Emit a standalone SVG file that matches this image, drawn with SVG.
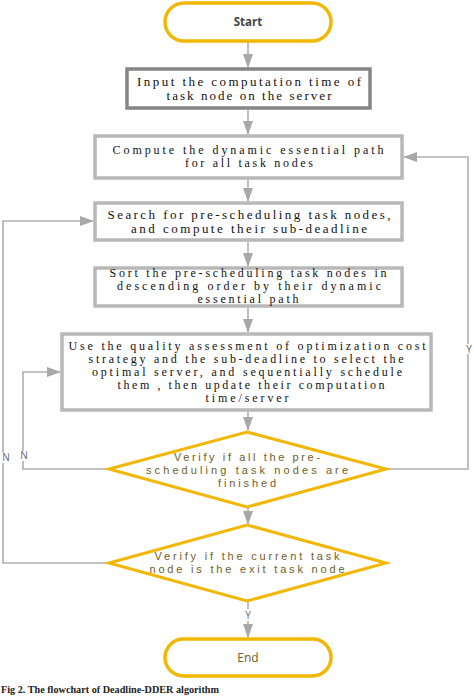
<svg xmlns="http://www.w3.org/2000/svg" width="474" height="696" viewBox="0 0 474 696">
<style>
.term{fill:#fff;stroke:#f2b705;stroke-width:3.5}
.dia{fill:#fff;stroke:#f2b705;stroke-width:3}
.box{fill:#fff;stroke:#b8b8b8;stroke-width:3.5}
.box1{fill:#fff;stroke:#858585;stroke-width:3.5}
.bt{font-family:"Liberation Serif",serif;font-size:13px;fill:#111;text-anchor:middle}
.bs{font-size:12px}
.dt{font-family:"Liberation Sans",Arial,sans-serif;font-size:11px;fill:#6f5e1f;text-anchor:middle}
.tt{font-family:"Open Sans","Liberation Sans",sans-serif;font-size:11.5px;font-weight:bold;fill:#444;text-anchor:middle}
.et{font-family:"Open Sans","Liberation Sans",sans-serif;font-size:12px;fill:#6f5e1f;text-anchor:middle}
.lbl{font-family:"Open Sans","Liberation Sans",sans-serif;font-size:10px;fill:#666;text-anchor:middle}
.ln{fill:none;stroke:#b0b0b0;stroke-width:1.6}
.cap{font-family:"Liberation Serif",serif;font-size:10px;font-weight:bold;fill:#222}
</style>
<defs>
<marker id="ah" markerWidth="14" markerHeight="10" refX="13" refY="5" orient="auto" markerUnits="userSpaceOnUse">
<path d="M0,0 L14,5 L0,10 Z" fill="#a8a8a8"/>
</marker>
</defs>
<rect width="474" height="696" fill="#fff"/>
<g id="connectors">
<line class="ln" x1="248" y1="42" x2="248" y2="67" marker-end="url(#ah)"/>
<line class="ln" x1="248" y1="110" x2="248" y2="134" marker-end="url(#ah)"/>
<line class="ln" x1="248" y1="180" x2="248" y2="201" marker-end="url(#ah)"/>
<line class="ln" x1="248" y1="242" x2="248" y2="266" marker-end="url(#ah)"/>
<line class="ln" x1="248" y1="308" x2="248" y2="332" marker-end="url(#ah)"/>
<line class="ln" x1="248" y1="412" x2="248" y2="430" marker-end="url(#ah)"/>
<line class="ln" x1="248" y1="508" x2="248" y2="524" marker-end="url(#ah)"/>
<line class="ln" x1="248" y1="601" x2="248" y2="609"/>
<line class="ln" x1="248" y1="621" x2="248" y2="637" marker-end="url(#ah)"/>
<text class="lbl" x="248" y="619">Y</text>
<polyline class="ln" points="386,469 468,469 468,354"/>
<polyline class="ln" points="468,344 468,157 404,157" marker-end="url(#ah)"/>
<text class="lbl" x="469" y="353">Y</text>
<polyline class="ln" points="110,469 23,469 23,461"/>
<polyline class="ln" points="23,451 23,372 60,372" marker-end="url(#ah)"/>
<text class="lbl" x="24" y="459">N</text>
<polyline class="ln" points="108,563 3,563 3,463"/>
<polyline class="ln" points="3,453 3,221 93,221" marker-end="url(#ah)"/>
<text class="lbl" x="6" y="461">N</text>
</g>
<g id="start">
<rect class="term" x="165" y="3" width="166" height="38" rx="19"/>
<text class="tt" x="248" y="26">Start</text>
</g>
<g id="input">
<rect class="box1" x="127" y="69" width="243" height="39"/>
<text class="bt" x="249" y="86" textLength="224" lengthAdjust="spacing">Input the computation time of</text>
<text class="bt" x="249" y="100" textLength="165" lengthAdjust="spacing">task node on the server</text>
</g>
<g id="compute">
<rect class="box" x="95" y="136" width="307" height="42"/>
<text class="bt bs" x="248" y="154" textLength="271" lengthAdjust="spacing">Compute the dynamic essential path</text>
<text class="bt bs" x="249" y="167" textLength="128" lengthAdjust="spacing">for all task nodes</text>
</g>
<g id="search">
<rect class="box" x="95" y="203" width="307" height="37"/>
<text class="bt" x="249" y="219" textLength="283" lengthAdjust="spacing">Search for pre-scheduling task nodes,</text>
<text class="bt" x="249" y="233" textLength="236" lengthAdjust="spacing">and compute their sub-deadline</text>
</g>
<g id="sort">
<rect class="box" x="95" y="268" width="307" height="38"/>
<text class="bt bs" x="248" y="277" textLength="277" lengthAdjust="spacing">Sort the pre-scheduling task nodes in</text>
<text class="bt bs" x="249" y="290" textLength="264" lengthAdjust="spacing">descending order  by their dynamic</text>
<text class="bt bs" x="248" y="303" textLength="101" lengthAdjust="spacing">essential path</text>
</g>
<g id="use">
<rect class="box" x="62" y="334" width="369" height="76"/>
<text class="bt bs" x="247" y="350" textLength="357" lengthAdjust="spacing">Use the quality assessment of optimization cost</text>
<text class="bt bs" x="246" y="363" textLength="315" lengthAdjust="spacing">strategy and the sub-deadline to select the</text>
<text class="bt bs" x="247" y="376" textLength="310" lengthAdjust="spacing">optimal server, and sequentially schedule</text>
<text class="bt bs" x="251" y="389" textLength="267" lengthAdjust="spacing">them , then update their computation</text>
<text class="bt bs" x="247" y="402" textLength="83" lengthAdjust="spacing">time/server</text>
</g>
<g id="verify-finished">
<polygon class="dia" points="247,432 386,469 247,507 109,469"/>
<text class="dt" x="247" y="461" textLength="146" lengthAdjust="spacing">Verify if all the pre-</text>
<text class="dt" x="247" y="474" textLength="202" lengthAdjust="spacing">scheduling task nodes are</text>
<text class="dt" x="247" y="487" textLength="58" lengthAdjust="spacing">finished</text>
</g>
<g id="verify-exit">
<polygon class="dia" points="247,525 386,563 247,601 109,563"/>
<text class="dt" x="247" y="560" textLength="185" lengthAdjust="spacing">Verify if the current task</text>
<text class="dt" x="247" y="573" textLength="195" lengthAdjust="spacing">node is the exit task node</text>
</g>
<g id="end">
<rect class="term" x="165" y="639" width="166" height="37" rx="18.5"/>
<text class="et" x="248" y="662">End</text>
</g>
<text class="cap" x="1" y="693" textLength="218" lengthAdjust="spacingAndGlyphs">Fig 2. The flowchart of Deadline-DDER algorithm</text>
</svg>
